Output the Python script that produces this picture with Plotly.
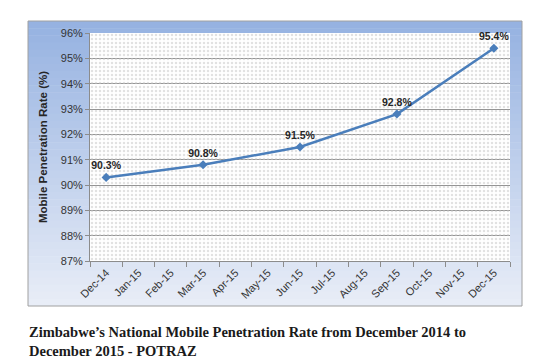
import plotly.graph_objects as go

months = ["Dec-14", "Jan-15", "Feb-15", "Mar-15", "Apr-15", "May-15", "Jun-15",
          "Jul-15", "Aug-15", "Sep-15", "Oct-15", "Nov-15", "Dec-15"]
penetration = [90.3, None, None, 90.8, None, None, 91.5, None, None, 92.8, None, None, 95.4]
y_ticks = [87, 88, 89, 90, 91, 92, 93, 94, 95, 96]
caption = "Zimbabwe\u2019s National Mobile Penetration Rate from December 2014 to<br>December 2015 - POTRAZ"
y_title = "Mobile Penetration Rate (%)"

W, H = 560, 362
PX0, PX1, PY0, PY1 = 90, 510, 33, 261
FX0, FX1, FY0, FY1 = 28, 522, 21, 306

def px(x):
    return x / W

def py(y):
    return 1 - y / H

labels = [f"{v:.1f}%" if v is not None else "" for v in penetration]
SANS = "Liberation Sans Narrow, Arial Narrow, Liberation Sans"

fig = go.Figure()

fig.add_trace(go.Scatter(
    x=[0, 1, 1, 0, 0], y=[0, 0, 1, 1, 0], xaxis="x", yaxis="y",
    mode="lines", line=dict(width=0), fill="toself",
    fillcolor="rgba(0,0,0,0)",
    fillpattern=dict(shape=".", fgcolor="#c4c4c4", bgcolor="rgba(0,0,0,0)",
                     size=4, solidity=0.3),
    hoverinfo="skip", showlegend=False))

fig.add_trace(go.Scatter(
    x=months, y=penetration, xaxis="x2", yaxis="y2",
    mode="lines+markers+text", connectgaps=True, cliponaxis=False,
    line=dict(color="#4a7ebb", width=2.5),
    marker=dict(symbol="diamond", size=7, color="#4a7ebb"),
    text=labels, textposition="top center",
    textfont=dict(family=SANS, size=10.5, color="#262626", weight="bold"),
    showlegend=False))

shapes = []
N = 40
top = (150, 178, 225)
bot = (232, 237, 247)
for i in range(N):
    t = i / (N - 1)
    c = tuple(int(round(top[k] + (bot[k] - top[k]) * t)) for k in range(3))
    ya = FY0 + (FY1 - FY0) * i / N
    yb = min(FY0 + (FY1 - FY0) * (i + 1) / N + 0.6, FY1)
    shapes.append(dict(type="rect", xref="paper", yref="paper",
                       x0=px(FX0), x1=px(FX1), y0=py(yb), y1=py(ya),
                       fillcolor="rgb(%d,%d,%d)" % c, line=dict(width=0),
                       layer="below"))
shapes.append(dict(type="rect", xref="paper", yref="paper",
                   x0=px(FX0), x1=px(FX1), y0=py(FY1), y1=py(FY0),
                   line=dict(color="#a0a0a0", width=1), layer="below"))
shapes.append(dict(type="rect", xref="paper", yref="paper",
                   x0=px(PX0), x1=px(PX1), y0=py(PY1), y1=py(PY0),
                   fillcolor="white", line=dict(width=0), layer="below"))

tickfont = dict(family=SANS, size=11, color="#333333")

fig.update_layout(
    width=W, height=H,
    margin=dict(l=0, r=0, t=0, b=0, pad=0, autoexpand=False),
    paper_bgcolor="white", plot_bgcolor="white",
    shapes=shapes,
    xaxis=dict(domain=[px(PX0), px(PX1)], range=[0, 1], visible=False,
               fixedrange=True, automargin=False),
    yaxis=dict(domain=[py(PY1), py(PY0)], range=[0, 1], visible=False,
               fixedrange=True, automargin=False),
    xaxis2=dict(overlaying="x", anchor="y2", type="category", categoryorder="array",
                categoryarray=months, range=[-0.5, len(months) - 0.5],
                tickmode="array", tickvals=months, ticktext=months,
                tickson="boundaries", ticks="outside", ticklen=5, tickcolor="#8c8c8c",
                showline=True, linecolor="#8c8c8c", linewidth=1, showgrid=False,
                tickangle=-45, tickfont=tickfont, automargin=False),
    yaxis2=dict(overlaying="y", anchor="x2", range=[87, 96], tickmode="array",
                tickvals=y_ticks, ticktext=[f"{v}%" for v in y_ticks],
                ticks="outside", ticklen=4, tickcolor="#8c8c8c",
                showline=True, linecolor="#8c8c8c", linewidth=1,
                showgrid=True, gridcolor="#939393", gridwidth=1, zeroline=False,
                tickfont=tickfont, automargin=False,
                title=dict(text=y_title, standoff=10,
                           font=dict(family=SANS, size=11.5, color="#262626",
                                     weight="bold"))),
    annotations=[dict(text=caption, xref="paper", yref="paper",
                      x=px(27), y=py(322), xanchor="left", yanchor="top",
                      align="left", showarrow=False,
                      font=dict(family="Liberation Serif, Times New Roman, serif",
                                size=14.5, color="#1a1a1a", weight="bold"))],
)

fig.write_html("out.html", config={"displayModeBar": False},
               post_script="document.body.style.margin='0';document.body.style.padding='0';")
